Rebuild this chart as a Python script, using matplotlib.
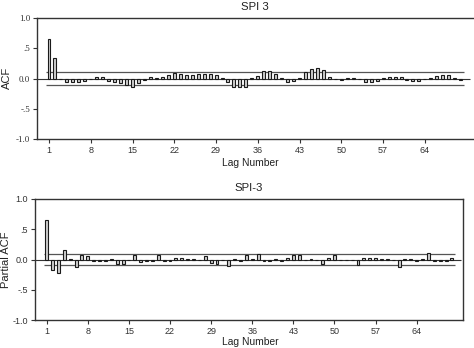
import matplotlib
matplotlib.use("Agg")
import matplotlib.pyplot as plt
import numpy as np

lags = list(range(1, 71))
acf = [0.66, 0.34, -0.01, -0.06, -0.05, -0.05, -0.04, -0.01, 0.03, 0.02,
       -0.04, -0.06, -0.08, -0.11, -0.14, -0.08, -0.03, 0.03, 0.01, 0.03,
       0.05, 0.09, 0.08, 0.05, 0.05, 0.07, 0.07, 0.08, 0.05, 0.01,
       -0.05, -0.14, -0.14, -0.14, 0.01, 0.04, 0.12, 0.12, 0.08, 0.01,
       -0.06, -0.04, 0.01, 0.10, 0.15, 0.17, 0.14, 0.03, -0.01, -0.02,
       0.01, 0.01, -0.01, -0.06, -0.06, -0.04, 0.01, 0.03, 0.03, 0.03,
       -0.02, -0.04, -0.04, -0.01, 0.01, 0.04, 0.06, 0.06, 0.01, -0.02]
pacf = [0.66, -0.17, -0.23, 0.16, 0.01, -0.13, 0.07, 0.05, -0.02, -0.03,
        -0.03, 0.01, -0.08, -0.08, -0.01, 0.08, -0.04, -0.03, -0.02, 0.08,
        -0.02, -0.02, 0.02, 0.02, 0.01, 0.01, -0.01, 0.06, -0.05, -0.07,
        -0.01, -0.10, 0.01, -0.02, 0.08, 0.01, 0.09, -0.03, -0.03, 0.01,
        -0.03, 0.03, 0.07, 0.07, 0.0, 0.01, -0.01, -0.08, 0.02, 0.07,
        0.0, -0.01, -0.01, -0.09, 0.02, 0.02, 0.02, 0.01, 0.01, -0.01,
        -0.12, 0.01, 0.01, -0.02, 0.01, 0.10, -0.03, -0.03, -0.03, 0.02]
acf_conf = 0.10
pacf_conf = 0.092
xticks = [1, 8, 15, 22, 29, 36, 43, 50, 57, 64]
yticks = [-1.0, -0.5, 0.0, 0.5, 1.0]
yticklabels = ["-1.0", "-.5", "0.0", ".5", "1.0"]

plt.rcParams['font.family'] = ['Liberation Sans', 'DejaVu Sans']
fig = plt.figure(figsize=(4.74, 3.48), dpi=100)

W, H = 474, 348
def pos(l, r, t, b):
    return [l / W, 1 - b / H, (r - l) / W, (b - t) / H]

def ftext(x, y, s, **kw):
    fig.text(x / W, 1 - y / H, s, ha='center', va='center', color='#222222', **kw)

ax1 = fig.add_axes(pos(37, 475, 18, 139))
ax2 = fig.add_axes(pos(35, 462.7, 199, 320))

def style(ax, vals, conf, xlim, serif_y):
    ax.bar(lags, vals, width=0.5, facecolor='#cfcfcf', edgecolor='#1a1a1a', linewidth=0.8, zorder=3)
    ax.hlines([conf, -conf], 0.5, 70.5, colors='#555555', linewidth=0.9, zorder=2)
    ax.hlines(0, xlim[0], 71.5, colors='#333333', linewidth=0.8, zorder=2)
    ax.set_xlim(*xlim)
    ax.set_ylim(-1.0, 1.0)
    ax.set_xticks(xticks)
    ax.set_xticklabels([str(t) for t in xticks], fontsize=6.5, color='#333333')
    ax.set_yticks(yticks)
    fam = ['Liberation Serif'] if serif_y else ['Liberation Sans']
    ax.set_yticklabels(yticklabels, fontsize=6.5, color='#333333', family=fam)
    ax.tick_params(axis='both', direction='out', length=3, width=0.8, color='#333333', pad=2)
    for s in ax.spines.values():
        s.set_linewidth(1.0)
        s.set_color('#333333')

style(ax1, acf, acf_conf, (-1.01, 72.4), True)
style(ax2, pacf, pacf_conf, (-0.99, 71.83), False)

ftext(255, 6.5, "SPI 3", fontsize=8.2)
ftext(249, 188, "SPI-3", fontsize=8.2)
ftext(7, 78, "ACF", fontsize=8, rotation=90)
ftext(6, 260, "Partial ACF", fontsize=8, rotation=90)
ftext(250, 163, "Lag Number", fontsize=7.4)
ftext(250, 342, "Lag Number", fontsize=7.4)

fig.savefig("out.png", dpi=100)
